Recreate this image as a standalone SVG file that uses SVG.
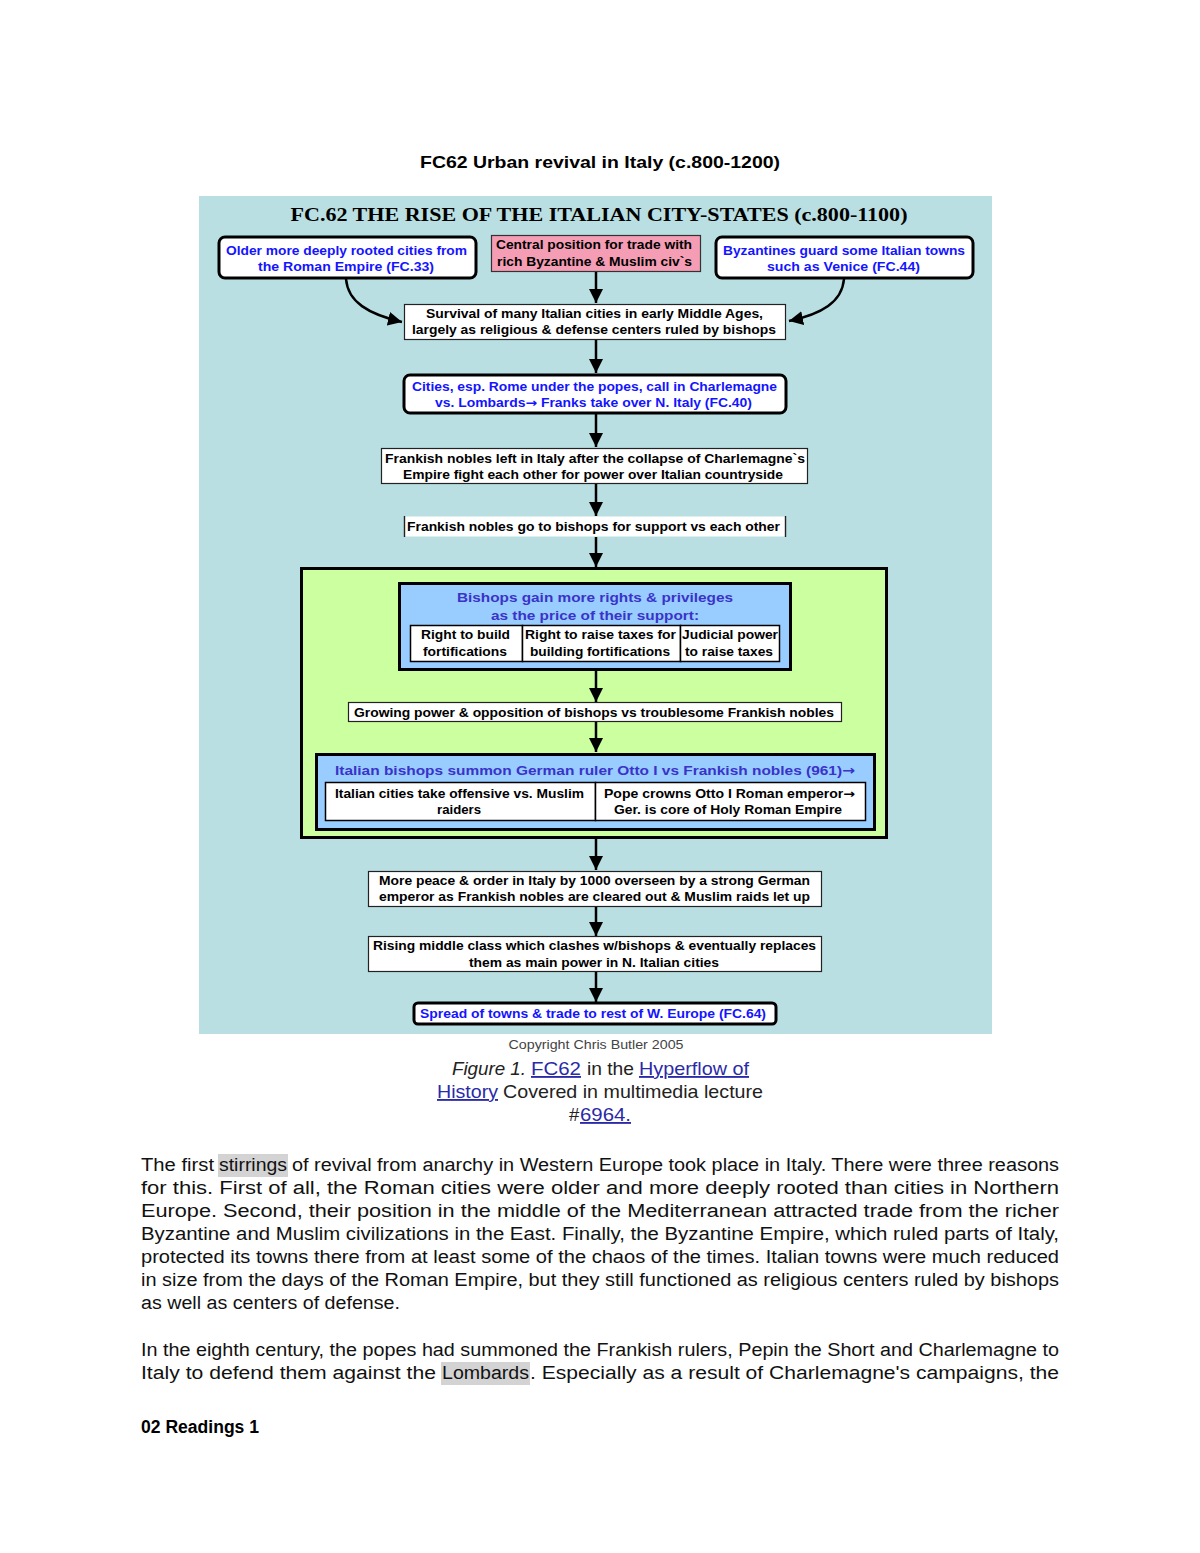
<svg xmlns="http://www.w3.org/2000/svg" width="1200" height="1553" viewBox="0 0 1200 1553">
<defs>
<marker id="ah" markerUnits="userSpaceOnUse" markerWidth="15" markerHeight="15" refX="14" refY="7" orient="auto">
<path d="M0,0 L14,7 L0,14 z" fill="#000"/>
</marker>
<style>
.d{font-family:"Liberation Sans",Arial,sans-serif;font-weight:bold;font-size:12.5px;text-anchor:middle;fill:#000}
.b{fill:#1414ff}
.p{fill:#3a33c8;font-size:13.5px}
.ar{font-family:"DejaVu Sans",sans-serif;font-weight:bold}
.rb{fill:#fff;stroke:#000;stroke-width:3}
.sq{fill:#fff;stroke:#222;stroke-width:1.2}
.cell{fill:#fff;stroke:#000;stroke-width:1.5}
.ln{stroke:#000;stroke-width:2.5;fill:none;marker-end:url(#ah)}
.body{font-family:"Liberation Sans",Arial,sans-serif;font-size:18px;fill:#111}
.cap{font-family:"Liberation Sans",Arial,sans-serif;font-size:18.5px;fill:#222}
.lk{fill:#2a2aa8;text-decoration:underline}
</style>
</defs>
<rect width="1200" height="1553" fill="#fff"/>
<text x="600" y="168" font-family="Liberation Sans, Arial, sans-serif" font-weight="bold" font-size="17" text-anchor="middle" textLength="360" lengthAdjust="spacingAndGlyphs">FC62 Urban revival in Italy (c.800-1200)</text>

<rect x="199" y="196" width="793" height="838" fill="#b9dfe2"/>
<text x="599" y="221" font-family="Liberation Serif, Times New Roman, serif" font-weight="bold" font-size="19" text-anchor="middle" textLength="617" lengthAdjust="spacingAndGlyphs">FC.62 THE RISE OF THE ITALIAN CITY-STATES (c.800-1100)</text>

<g id="n-older">
<rect class="rb" x="219" y="237" width="257" height="41" rx="6"/>
<text class="d b" x="346.5" y="254.5" textLength="241" lengthAdjust="spacingAndGlyphs">Older more deeply rooted cities from</text>
<text class="d b" x="346" y="270.5" textLength="176" lengthAdjust="spacingAndGlyphs">the Roman Empire  (FC.33)</text>
</g>
<g id="n-central">
<rect x="491.5" y="235.5" width="209" height="36" fill="#f49db4" stroke="#333" stroke-width="1.2"/>
<text class="d" x="594" y="248.5" textLength="196" lengthAdjust="spacingAndGlyphs">Central position for trade with</text>
<text class="d" x="594.5" y="265.5" textLength="195" lengthAdjust="spacingAndGlyphs">rich Byzantine &amp; Muslim civ`s</text>
</g>
<g id="n-byz">
<rect class="rb" x="716" y="237" width="257" height="41" rx="6"/>
<text class="d b" x="844" y="254.5" textLength="242" lengthAdjust="spacingAndGlyphs">Byzantines guard some Italian towns</text>
<text class="d b" x="843.5" y="270.5" textLength="153" lengthAdjust="spacingAndGlyphs">such as Venice  (FC.44)</text>
</g>
<g id="n-survival">
<rect class="sq" x="404.5" y="304.5" width="381" height="35"/>
<text class="d" x="594.5" y="317.5" textLength="337" lengthAdjust="spacingAndGlyphs">Survival of many Italian cities in early Middle Ages,</text>
<text class="d" x="594" y="334" textLength="364" lengthAdjust="spacingAndGlyphs">largely as religious &amp; defense centers ruled by bishops</text>
</g>
<g id="n-cities">
<rect class="rb" x="404" y="375" width="382" height="38" rx="6"/>
<text class="d b" x="594.5" y="390.5" textLength="365" lengthAdjust="spacingAndGlyphs">Cities, esp. Rome under the popes, call in Charlemagne</text>
<text class="d b" x="593.5" y="406.5" textLength="317" lengthAdjust="spacingAndGlyphs">vs. Lombards<tspan class="ar">→</tspan> Franks take over N. Italy (FC.40)</text>
</g>
<g id="n-frankish">
<rect class="sq" x="381.5" y="448.5" width="426" height="35"/>
<text class="d" x="595" y="462.5" textLength="420" lengthAdjust="spacingAndGlyphs">Frankish nobles left in Italy after the collapse of Charlemagne`s</text>
<text class="d" x="593" y="478.5" textLength="380" lengthAdjust="spacingAndGlyphs">Empire fight each other for power over Italian countryside</text>
</g>
<g id="n-go">
<rect x="404" y="516.5" width="382" height="20" fill="#fff"/>
<path d="M404.5,516 V537 M785.5,516 V537" stroke="#222" stroke-width="1.4"/>
<text class="d" x="593.5" y="530.5" textLength="373" lengthAdjust="spacingAndGlyphs">Frankish nobles go to bishops for support vs each other</text>
</g>

<g id="n-green">
<rect x="301.5" y="568.5" width="585" height="269" fill="#ccff9f" stroke="#000" stroke-width="3"/>
</g>
<g id="n-bishops">
<rect x="399.5" y="583.5" width="391" height="86" fill="#99ccff" stroke="#000" stroke-width="3"/>
<text class="d p" x="595" y="602" textLength="276" lengthAdjust="spacingAndGlyphs">Bishops gain more rights &amp; privileges</text>
<text class="d p" x="595" y="620" textLength="208" lengthAdjust="spacingAndGlyphs">as the price of their support:</text>
<rect class="cell" x="410.5" y="625.5" width="112" height="36"/>
<rect class="cell" x="522.5" y="625.5" width="158" height="36"/>
<rect class="cell" x="680.5" y="625.5" width="99" height="36"/>
<text class="d" x="465.5" y="638.5" textLength="89" lengthAdjust="spacingAndGlyphs">Right to build</text>
<text class="d" x="465" y="655.5" textLength="84" lengthAdjust="spacingAndGlyphs">fortifications</text>
<text class="d" x="600.5" y="638.5" textLength="151" lengthAdjust="spacingAndGlyphs">Right to raise taxes for</text>
<text class="d" x="600" y="655.5" textLength="140" lengthAdjust="spacingAndGlyphs">building fortifications</text>
<text class="d" x="730" y="638.5" textLength="96" lengthAdjust="spacingAndGlyphs">Judicial power</text>
<text class="d" x="729" y="655.5" textLength="88" lengthAdjust="spacingAndGlyphs">to raise taxes</text>
</g>
<g id="n-growing">
<rect class="sq" x="348.5" y="702.5" width="493" height="19"/>
<text class="d" x="594" y="716.5" textLength="480" lengthAdjust="spacingAndGlyphs">Growing power &amp; opposition of bishops vs troublesome Frankish nobles</text>
</g>
<g id="n-otto">
<rect x="316.5" y="754.5" width="558" height="75" fill="#99ccff" stroke="#000" stroke-width="3"/>
<text class="d p" x="595" y="774.5" textLength="520" lengthAdjust="spacingAndGlyphs">Italian bishops summon German ruler Otto I vs Frankish nobles (961)<tspan class="ar">→</tspan></text>
<rect class="cell" x="325.5" y="782.5" width="270" height="38"/>
<rect class="cell" x="595.5" y="782.5" width="270" height="38"/>
<text class="d" x="459.5" y="797.5" textLength="249" lengthAdjust="spacingAndGlyphs">Italian cities take offensive vs. Muslim</text>
<text class="d" x="459" y="813.5" textLength="44" lengthAdjust="spacingAndGlyphs">raiders</text>
<text class="d" x="729.5" y="797.5" textLength="251" lengthAdjust="spacingAndGlyphs">Pope crowns Otto I Roman emperor<tspan class="ar">→</tspan></text>
<text class="d" x="728" y="813.5" textLength="228" lengthAdjust="spacingAndGlyphs">Ger. is core of Holy Roman Empire</text>
</g>
<g id="n-peace">
<rect class="sq" x="368.5" y="871.5" width="453" height="35"/>
<text class="d" x="594.5" y="884.5" textLength="431" lengthAdjust="spacingAndGlyphs">More peace &amp; order in Italy by 1000 overseen by a strong German</text>
<text class="d" x="594.5" y="901" textLength="431" lengthAdjust="spacingAndGlyphs">emperor as Frankish nobles are cleared out &amp; Muslim raids let up</text>
</g>
<g id="n-rising">
<rect class="sq" x="368.5" y="936.5" width="453" height="35"/>
<text class="d" x="594.5" y="949.5" textLength="443" lengthAdjust="spacingAndGlyphs">Rising middle class which clashes w/bishops &amp; eventually replaces</text>
<text class="d" x="594" y="966.5" textLength="250" lengthAdjust="spacingAndGlyphs">them as main power in N. Italian cities</text>
</g>
<g id="n-spread">
<rect class="rb" x="414" y="1003" width="362" height="21" rx="4"/>
<text class="d b" x="593" y="1018" textLength="346" lengthAdjust="spacingAndGlyphs">Spread of towns &amp; trade to rest of W. Europe (FC.64)</text>
</g>

<g id="connectors">
<path class="ln" d="M346,279 C348,302 368,314 402,322"/>
<path class="ln" d="M844,279 C842,302 822,314 789,321"/>
<path class="ln" d="M596,272 L596,303"/>
<path class="ln" d="M596,340 L596,373"/>
<path class="ln" d="M596,413 L596,447"/>
<path class="ln" d="M596,484 L596,516"/>
<path class="ln" d="M596,537 L596,567"/>
<path class="ln" d="M596,671 L596,702"/>
<path class="ln" d="M596,722 L596,752"/>
<path class="ln" d="M596,839 L596,870"/>
<path class="ln" d="M596,907 L596,936"/>
<path class="ln" d="M596,972 L596,1002"/>
</g>

<text x="596" y="1049" font-family="Liberation Sans, Arial, sans-serif" font-size="12" fill="#444" text-anchor="middle" textLength="175" lengthAdjust="spacingAndGlyphs">Copyright Chris Butler 2005</text>

<text class="cap" y="1075"><tspan x="452" font-style="italic" textLength="74" lengthAdjust="spacingAndGlyphs">Figure 1.</tspan><tspan x="531" class="lk" textLength="50" lengthAdjust="spacingAndGlyphs">FC62</tspan><tspan x="587" textLength="47" lengthAdjust="spacingAndGlyphs">in the</tspan><tspan x="639" class="lk" textLength="110" lengthAdjust="spacingAndGlyphs">Hyperflow of</tspan></text>
<text class="cap" y="1098"><tspan x="437" class="lk" textLength="61" lengthAdjust="spacingAndGlyphs">History</tspan><tspan x="503" textLength="260" lengthAdjust="spacingAndGlyphs">Covered in multimedia lecture</tspan></text>
<text class="cap" y="1121"><tspan x="569">#</tspan><tspan x="580" class="lk" textLength="51" lengthAdjust="spacingAndGlyphs">6964.</tspan></text>

<rect x="218" y="1154" width="70" height="23" fill="#d3d3d3"/>
<rect x="441" y="1362" width="89" height="23" fill="#d3d3d3"/>
<g class="body">
<text x="141" y="1171" textLength="73" lengthAdjust="spacingAndGlyphs">The first</text>
<text x="219" y="1171" textLength="68" lengthAdjust="spacingAndGlyphs">stirrings</text>
<text x="292" y="1171" textLength="767" lengthAdjust="spacingAndGlyphs">of revival from anarchy in Western Europe took place in Italy.  There were three reasons</text>
<text x="141" y="1194" textLength="918" lengthAdjust="spacingAndGlyphs">for this.  First of all, the Roman cities were older and more deeply rooted than cities in Northern</text>
<text x="141" y="1217" textLength="918" lengthAdjust="spacingAndGlyphs">Europe.  Second, their position in the middle of the Mediterranean attracted trade from the richer</text>
<text x="141" y="1240" textLength="918" lengthAdjust="spacingAndGlyphs">Byzantine and Muslim civilizations in the East.  Finally, the Byzantine Empire, which ruled parts of Italy,</text>
<text x="141" y="1263" textLength="918" lengthAdjust="spacingAndGlyphs">protected its towns there from at least some of the chaos of the times.  Italian towns were much reduced</text>
<text x="141" y="1286" textLength="918" lengthAdjust="spacingAndGlyphs">in size from the days of the Roman Empire, but they still functioned as religious centers ruled by bishops</text>
<text x="141" y="1309" textLength="259" lengthAdjust="spacingAndGlyphs">as well as centers of defense.</text>
<text x="141" y="1356" textLength="918" lengthAdjust="spacingAndGlyphs">In the eighth century, the popes had summoned the Frankish rulers, Pepin the Short and Charlemagne to</text>
<text x="141" y="1379" textLength="295" lengthAdjust="spacingAndGlyphs">Italy to defend them against the</text>
<text x="442" y="1379" textLength="87" lengthAdjust="spacingAndGlyphs">Lombards</text>
<text x="530" y="1379" textLength="529" lengthAdjust="spacingAndGlyphs">.  Especially as a result of Charlemagne's campaigns, the</text>
</g>
<text x="141" y="1433" font-family="Liberation Sans, Arial, sans-serif" font-weight="bold" font-size="18" textLength="118" lengthAdjust="spacingAndGlyphs">02 Readings 1</text>
</svg>
